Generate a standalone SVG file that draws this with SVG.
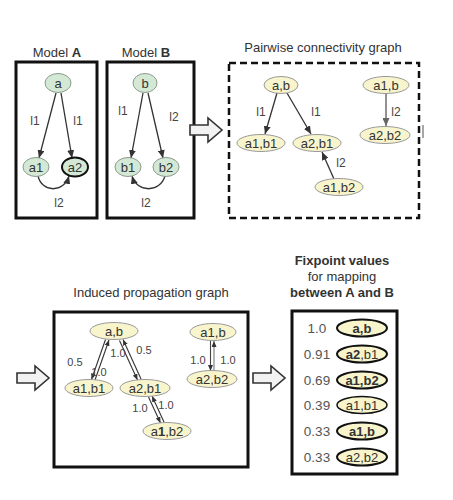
<svg xmlns="http://www.w3.org/2000/svg" width="453" height="500" viewBox="0 0 453 500">
<style>
text{font-family:"Liberation Sans",Arial,sans-serif;fill:#333}
.ttl{font-size:13px;text-anchor:middle}
.lbl{font-size:12px;text-anchor:middle;fill:#444}
.nt{font-size:13px;text-anchor:middle;dominant-baseline:central}
.g ellipse{fill:#d3e9d6;stroke:#8a9a8c;stroke-width:1}
.y ellipse{fill:#f8f4cc;stroke:#999;stroke-width:1}
.box{fill:none;stroke:#111;stroke-width:3}
.e{stroke:#333;stroke-width:1.3;fill:none;marker-end:url(#ah)}
.d{stroke:#333;stroke-width:1.1;fill:none;marker-end:url(#sh)}
.num{font-size:13.5px;text-anchor:middle;dominant-baseline:central;fill:#555}
.fx ellipse{fill:#f8f4cc;stroke:#111}
.b{font-weight:bold}
</style>
<defs>
<marker id="ah" markerUnits="userSpaceOnUse" markerWidth="8" markerHeight="7" refX="8" refY="3.5" orient="auto"><path d="M0,0 L8,3.5 L0,7 Z" fill="#333"/></marker>
<marker id="ahg" markerUnits="userSpaceOnUse" markerWidth="8" markerHeight="7" refX="8" refY="3.5" orient="auto"><path d="M0,0 L8,3.5 L0,7 Z" fill="#666"/></marker>
<marker id="sh" markerUnits="userSpaceOnUse" markerWidth="6" markerHeight="5" refX="6" refY="2.5" orient="auto"><path d="M0,0 L6,2.5 L0,5 Z" fill="#333"/></marker>
<path id="harrow" d="M0,-5 H18 V-12 L32,0 L18,12 V5 H0 Z" fill="#f2f2f2" stroke="#333" stroke-width="1.6"/>
</defs>

<!-- titles -->
<text class="ttl" x="57" y="57">Model <tspan class="b">A</tspan></text>
<text class="ttl" x="146" y="57">Model <tspan class="b">B</tspan></text>
<text class="ttl" x="323" y="52">Pairwise connectivity graph</text>
<text class="ttl" x="151" y="297">Induced propagation graph</text>
<text class="ttl b" x="342" y="265">Fixpoint values</text>
<text class="ttl" x="342" y="281">for mapping</text>
<text class="ttl b" x="342" y="297">between A and B</text>

<!-- frames -->
<rect class="box" x="16" y="62" width="81" height="156"/>
<rect class="box" x="107" y="62" width="87" height="156"/>
<rect x="229" y="63" width="190" height="155" fill="none" stroke="#111" stroke-width="2.5" stroke-dasharray="7,4"/>
<rect class="box" x="54" y="312" width="194" height="155"/>
<rect class="box" x="292" y="311" width="105" height="163"/>
<line x1="423" y1="125" x2="423" y2="138" stroke="#888" stroke-width="1.5"/>

<!-- hollow arrows -->
<use href="#harrow" transform="translate(190,130)"/>
<use href="#harrow" transform="translate(17,378)"/>
<use href="#harrow" transform="translate(253,378)"/>

<g id="connectors">
<!-- model A -->
<line class="e" x1="56" y1="93" x2="39" y2="158"/>
<line class="e" x1="61" y1="93" x2="72" y2="158"/>
<path class="e" d="M38,176 C42,193 64,193 69,176"/>
<!-- model B -->
<line class="e" x1="143" y1="93" x2="131" y2="158"/>
<line class="e" x1="148" y1="93" x2="163" y2="158"/>
<path class="e" d="M165,176 C160,193 137,193 132,176"/>
<!-- pairwise -->
<line class="e" x1="277" y1="93" x2="265" y2="134"/>
<line class="e" x1="287" y1="93" x2="311" y2="134"/>
<line class="e" x1="334" y1="179" x2="322" y2="152"/>
<line class="e" x1="386" y1="93" x2="386" y2="126" style="stroke:#777;stroke-width:1.6;marker-end:url(#ahg)"/>
<!-- induced -->
<line class="d" x1="105.5" y1="339.5" x2="91.5" y2="379.5"/>
<line class="d" x1="95" y1="380" x2="109" y2="340"/>
<line class="d" x1="119.5" y1="340.5" x2="137.5" y2="380"/>
<line class="d" x1="141" y1="379" x2="123" y2="339.5"/>
<line class="d" x1="148.5" y1="397" x2="160.5" y2="423"/>
<line class="d" x1="164" y1="422" x2="152" y2="396"/>
<line class="d" x1="210.5" y1="341" x2="210.5" y2="371" style="stroke:#444"/>
<line class="d" x1="214" y1="370" x2="214" y2="341" style="stroke:#777"/>
</g>

<!-- edge labels -->
<text class="lbl" x="35" y="125">l1</text>
<text class="lbl" x="78" y="125">l1</text>
<text class="lbl" x="59" y="207">l2</text>
<text class="lbl" x="123" y="115">l1</text>
<text class="lbl" x="174" y="121">l2</text>
<text class="lbl" x="146" y="207">l2</text>
<text class="lbl" x="261" y="116">l1</text>
<text class="lbl" x="316" y="116">l1</text>
<text class="lbl" x="341" y="167">l2</text>
<text class="lbl" x="396" y="116">l2</text>
<text class="lbl" x="75" y="366" style="font-size:11px">0.5</text>
<text class="lbl" x="99" y="376" style="font-size:11px">1.0</text>
<text class="lbl" x="118" y="357" style="font-size:11px">1.0</text>
<text class="lbl" x="144" y="354" style="font-size:11px">0.5</text>
<text class="lbl" x="198" y="364" style="font-size:11px">1.0</text>
<text class="lbl" x="228" y="364" style="font-size:11px">1.0</text>
<text class="lbl" x="140" y="412" style="font-size:11px">1.0</text>
<text class="lbl" x="166" y="409" style="font-size:11px">1.0</text>

<!-- model A nodes -->
<g id="A_a" class="g"><ellipse cx="58" cy="83" rx="13" ry="9.5"/><text class="nt" x="58" y="83">a</text></g>
<g id="A_a1" class="g"><ellipse cx="36" cy="167" rx="13" ry="9.5"/><text class="nt" x="36" y="167">a1</text></g>
<g id="A_a2" class="g"><ellipse cx="75" cy="167" rx="13" ry="9.5" style="stroke:#111;stroke-width:2"/><text class="nt" x="75" y="167">a2</text></g>
<!-- model B nodes -->
<g id="B_b" class="g"><ellipse cx="145" cy="83" rx="12" ry="9.5"/><text class="nt" x="145" y="83">b</text></g>
<g id="B_b1" class="g"><ellipse cx="128" cy="167" rx="13" ry="9.5"/><text class="nt" x="128" y="167">b1</text></g>
<g id="B_b2" class="g"><ellipse cx="166" cy="167" rx="13" ry="9.5"/><text class="nt" x="166" y="167">b2</text></g>

<!-- pairwise nodes -->
<g id="P_ab" class="y"><ellipse cx="281" cy="85" rx="17" ry="8.5"/><text class="nt" x="281" y="85">a,b</text></g>
<g id="P_a1b1" class="y"><ellipse cx="261" cy="143" rx="24" ry="8.5"/><text class="nt" x="261" y="143">a1,b1</text></g>
<g id="P_a2b1" class="y"><ellipse cx="317" cy="143" rx="24" ry="8.5"/><text class="nt" x="317" y="143">a2,b1</text></g>
<g id="P_a1b2" class="y"><ellipse cx="339" cy="187" rx="24" ry="8.5"/><text class="nt" x="339" y="187">a1,b2</text></g>
<g id="P_a1b" class="y"><ellipse cx="386" cy="85" rx="23" ry="8.5"/><text class="nt" x="386" y="85">a1,b</text></g>
<g id="P_a2b2" class="y"><ellipse cx="385" cy="135" rx="25" ry="8.5"/><text class="nt" x="385" y="135">a2,b2</text></g>

<!-- induced nodes -->
<g id="I_ab" class="y"><ellipse cx="114" cy="331" rx="24" ry="8.5"/><text class="nt" x="114" y="331">a,b</text></g>
<g id="I_a1b1" class="y"><ellipse cx="89" cy="388" rx="24" ry="8.5"/><text class="nt" x="89" y="388">a1,b1</text></g>
<g id="I_a2b1" class="y"><ellipse cx="145" cy="388" rx="25" ry="8.5"/><text class="nt" x="145" y="388">a2,b1</text></g>
<g id="I_a1b2" class="y"><ellipse cx="167" cy="431" rx="24" ry="8.5"/><text class="nt" x="167" y="431">a<tspan class="b">1</tspan>,b2</text></g>
<g id="I_a1b" class="y"><ellipse cx="213" cy="332" rx="23" ry="8.5"/><text class="nt" x="213" y="332">a1,b</text></g>
<g id="I_a2b2" class="y"><ellipse cx="212" cy="379" rx="25" ry="8.5"/><text class="nt" x="212" y="379">a2,b2</text></g>

<!-- fixpoint list -->
<g id="F1" class="fx"><text class="num" x="317" y="328">1.0</text><ellipse cx="362" cy="328" rx="25" ry="8.5" stroke-width="2"/><text class="nt b" x="362" y="328">a,b</text></g>
<g id="F2" class="fx"><text class="num" x="317" y="354">0.91</text><ellipse cx="362" cy="354" rx="25" ry="8.5" stroke-width="2"/><text class="nt" x="362" y="354"><tspan class="b">a2</tspan>,b1</text></g>
<g id="F3" class="fx"><text class="num" x="317" y="380">0.69</text><ellipse cx="362" cy="380" rx="25" ry="8.5" stroke-width="2"/><text class="nt b" x="362" y="380">a1,b2</text></g>
<g id="F4" class="fx"><text class="num" x="317" y="405">0.39</text><ellipse cx="362" cy="405" rx="25" ry="8.5" stroke-width="1.5"/><text class="nt" x="362" y="405">a1,b1</text></g>
<g id="F5" class="fx"><text class="num" x="317" y="431">0.33</text><ellipse cx="362" cy="431" rx="25" ry="8.5" stroke-width="2"/><text class="nt b" x="362" y="431">a1,b</text></g>
<g id="F6" class="fx"><text class="num" x="317" y="457">0.33</text><ellipse cx="362" cy="457" rx="25" ry="8.5" stroke-width="2"/><text class="nt" x="362" y="457">a2,b2</text></g>
</svg>
